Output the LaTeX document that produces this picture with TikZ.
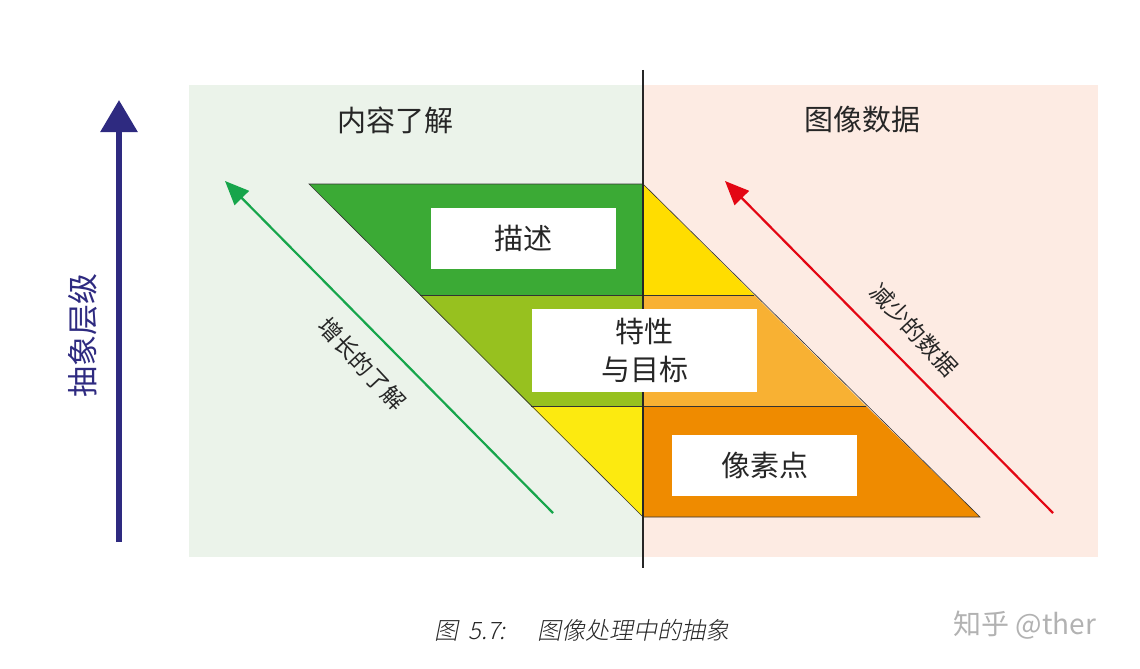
\documentclass[tikz,border=0pt]{standalone}
\usepackage{fontspec}
\setmainfont{Noto Sans CJK SC}
\newfontfamily\capfont[FakeSlant=0.2]{Noto Sans CJK SC Light}
\usetikzlibrary{arrows.meta}
\definecolor{bgL}{HTML}{EBF3EA}
\definecolor{bgR}{HTML}{FDEBE3}
\definecolor{dg}{HTML}{3BAA35}
\definecolor{lg}{HTML}{97C11F}
\definecolor{yl}{HTML}{FCEA10}
\definecolor{yr}{HTML}{FFDD00}
\definecolor{om}{HTML}{F8B133}
\definecolor{ob}{HTML}{EF8B00}
\definecolor{navy}{HTML}{2E2A80}
\definecolor{ag}{HTML}{16A54B}
\definecolor{ar}{HTML}{E30613}
\tikzset{
 wbox/.style={fill=white,draw=none},
 big/.style={font=\fontsize{29}{34}\selectfont,text=black!85},
 slab/.style={font=\fontsize{23}{26}\selectfont,text=black!85},
}
\begin{document}
\begin{tikzpicture}[x=1pt,y=-1pt]
\useasboundingbox (0,0) rectangle (1140,669);
\fill[bgL] (189,85) rectangle (643,557);
\fill[bgR] (643,85) rectangle (1098,557);
% left parallelogram
\fill[dg] (309,184) -- (643,184) -- (643,295) -- (420,295) -- cycle;
\fill[lg] (420,295) -- (643,295) -- (643,406) -- (531,406) -- cycle;
\fill[yl] (531,406) -- (643,406) -- (643,517) -- cycle;
% right triangle
\fill[yr] (643,184) -- (754,295) -- (643,295) -- cycle;
\fill[om] (643,295) -- (754,295) -- (866,406) -- (643,406) -- cycle;
\fill[ob] (643,406) -- (866,406) -- (980,517) -- (643,517) -- cycle;
\draw[black!80,line width=0.6pt] (309,184) -- (643,184) -- (980,517) -- (643,517) -- cycle;
\draw[black!80,line width=0.6pt] (420,295) -- (754,295) (531,406) -- (866,406);
\draw[black!85,line width=2pt] (643,70) -- (643,568);
% boxes
\node[wbox,minimum width=185pt,minimum height=61pt,big] (b1) at (523.5,238.5) {描述};
\node[wbox,minimum width=225pt,minimum height=83pt,big,align=center,font=\fontsize{29}{38}\selectfont] (b2) at (644.5,350.5) {特性\\与目标};
\node[wbox,minimum width=185pt,minimum height=61pt,big] (b3) at (764.5,465.5) {像素点};
% titles
\node[big] (t1) at (395,120) {内容了解};
\node[big] (t2) at (862,120) {图像数据};
% arrows
\coordinate (g0) at (553,513); \coordinate (g1) at (225,181);
\draw[ag,line width=2.2pt,-{Triangle[length=24pt,width=20pt]}] (g0) -- (g1);
\coordinate (r0) at (1053,513); \coordinate (r1) at (725,181);
\draw[ar,line width=2.2pt,-{Triangle[length=24pt,width=20pt]}] (r0) -- (r1);
\node[slab,rotate=-47] (l1) at (362,364) {增长的了解};
\node[slab,rotate=-47] (l2) at (914,330) {减少的数据};
% abstraction axis
\coordinate (a0) at (119,542); \coordinate (a1) at (119,100);
\draw[navy,line width=6pt,-{Triangle[length=32pt,width=36pt]}] (a0) -- (a1);
\node[rotate=90,font=\fontsize{31}{34}\selectfont,text=navy] (ax) at (83,335) {抽象层级};
% caption
\node[font=\capfont\fontsize{24}{28}\selectfont,text=black!85] (cap) at (582,630) {图 \,5.7: \quad 图像处理中的抽象};
\node[font=\fontsize{28}{32}\selectfont,text=black!30] (wm) at (1025,625) {知乎 @ther};
\end{tikzpicture}
\end{document}
